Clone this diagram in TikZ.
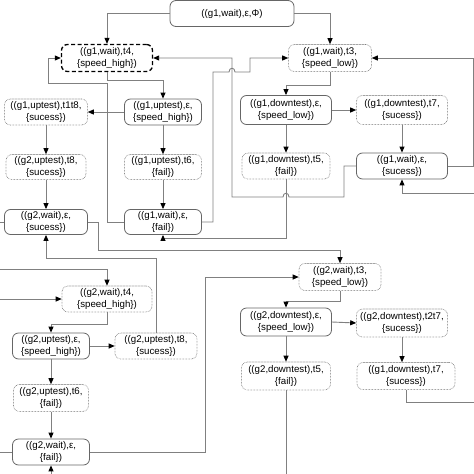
\documentclass[tikz,border=0pt]{standalone}
\usepackage{fontspec}
\setmainfont{Liberation Sans}
\usetikzlibrary{arrows.meta}
\begin{document}
\begin{tikzpicture}[x=1pt,y=-1pt,
  nd/.style={rounded corners=6pt, align=center, inner sep=0pt, font=\fontsize{9.7}{11.3}\selectfont, text=black},
  sz/.style 2 args={minimum width=#1pt, minimum height=#2pt},
  sol/.style={nd, draw=black!60, line width=0.8pt},
  dot/.style={nd, draw=black!55, line width=0.6pt, dash pattern=on 0.6pt off 0.9pt},
  dsh/.style={nd, draw=black, line width=1.3pt, dash pattern=on 4pt off 2.5pt},
  ln/.style={draw=black!50, line width=0.9pt},
  ar/.style={ln, -{Triangle[length=6pt,width=5pt,color=black]}},
]
\useasboundingbox (0,0) rectangle (474,474);
% nodes
\node[sol, sz={124}{26}] (A) at (232,13.5) {((g1,wait),ε,Φ)};
\node[dsh, sz={91}{27}] (B) at (107,58) {((g1,wait),t4,\\\{speed\_high\})};
\node[dot, sz={83}{27}] (C) at (330,58) {((g1,wait),t3,\\\{speed\_low\})};
\node[dot, sz={83}{26}] (D) at (46,112) {((g1,uptest),t1t8,\\\{sucess\})};
\node[sol, sz={77}{26}] (E) at (163,112) {((g1,uptest),ε,\\\{speed\_high\})};
\node[sol, sz={91}{29}] (F) at (286,110) {((g1,downtest),ε,\\\{speed\_low\})};
\node[dot, sz={91}{29}] (G) at (402,110) {((g1,downtest),t7,\\\{sucess\})};
\node[dot, sz={80}{25}] (H) at (46,167) {((g2,uptest),t8,\\\{sucess\})};
\node[dot, sz={77}{25}] (I) at (163,167) {((g1,uptest),t6,\\\{fail\})};
\node[dot, sz={88}{26}] (J) at (286,166) {((g1,downtest),t5,\\\{fail\})};
\node[sol, sz={91}{26}] (K) at (402,166) {((g1,wait),ε,\\\{sucess\})};
\node[sol, sz={83}{25}] (L) at (46,222) {((g2,wait),ε,\\\{sucess\})};
\node[sol, sz={77}{25}] (M) at (163,222) {((g1,wait),ε,\\\{fail\})};
\node[dot, sz={90}{26}] (N) at (107,299) {((g2,wait),t4,\\\{speed\_high\})};
\node[dot, sz={82}{27}] (O) at (340,277) {((g2,wait),t3,\\\{speed\_low\})};
\node[sol, sz={77}{26}] (P) at (51,346) {((g2,uptest),ε,\\\{speed\_high\})};
\node[dot, sz={82}{26}] (Q) at (156,346) {((g2,uptest),t8,\\\{sucess\})};
\node[sol, sz={91}{28}] (R) at (286,322) {((g2,downtest),ε,\\\{speed\_low\})};
\node[dot, sz={91}{28}] (S) at (402,323) {((g2,downtest),t2t7,\\\{sucess\})};
\node[dot, sz={75}{27}] (T) at (51,398) {((g2,uptest),t6,\\\{fail\})};
\node[dot, sz={89}{28}] (U) at (286,376) {((g2,downtest),t5,\\\{fail\})};
\node[dot, sz={98}{27}] (V) at (406,376) {((g1,downtest),t7,\\\{sucess\})};
\node[sol, sz={77}{26}] (W) at (51,452) {((g2,wait),ε,\\\{fail\})};
% connectors
\draw[ar] (A.west) -| (B.north);
\draw[ar] (A.east) -| (C.north);
\draw[ar] (M.west) -| (107,83) -- (48,83) |- (B.west);
\draw[ar] (M.east) -- (213,222) -- (213,72) -- (229,72) .. controls (229,67) and (235,67) .. (235,72) -- (250,72) |- (C.west);
\draw[ar] (K.west) -- (344,166) -- (344,197) -- (289,197) .. controls (289,192) and (283,192) .. (283,197) -- (232,197) |- (B.east);
\draw[ar] (K.east) -- (473,166) |- (C.east);
\draw[ar] (C.south) -- ++(0,14) -| (F.north);
\draw[ar] (F.east) -- (G.west);
\draw[ar] (G.south) -- (K.north);
\draw[ar] (F.south) -- (J.north);
\draw[ar] (J.south) -- (286,238) -| (M.south);
\draw[ar] (V.south) |- (480,402) -- (480,193) -| (K.south);
\draw[ar] (B.south) -- ++(0,8) -| (E.north);
\draw[ar] (E.west) -- (D.east);
\draw[ar] (E.south) -- (I.north);
\draw[ar] (I.south) -- (M.north);
\draw[ar] (D.south) -- (H.north);
\draw[ar] (H.south) -- (L.north);
\draw[ar] (L.west) -- (-2,222) -- (-2,269) -| (N.north);
\draw[ar] (L.east) -- (98,222) -- (98,250) -| (O.north);
\draw[ar] (Q.north) |- (46,258) -- (L.south);
\draw[ar] (W.west) -- (-2,452) |- (N.west);
\draw[ar] (W.east) -- (205,452) |- (O.west);
\draw[ar] (N.south) -- ++(0,12) -| (P.north);
\draw[ar] (P.east) -- (Q.west);
\draw[ar] (P.south) -- (T.north);
\draw[ar] (T.south) -- (W.north);
\draw[ar] (U.south) -- (286,482) -| (W.south);
\draw[ar] (O.south) -- ++(0,11) -| (R.north);
\draw[ar] (R.east) -- (S.west);
\draw[ar] (R.south) -- (U.north);
\draw[ar] (S.south) -- (S.south |- V.north);
\end{tikzpicture}
\end{document}
